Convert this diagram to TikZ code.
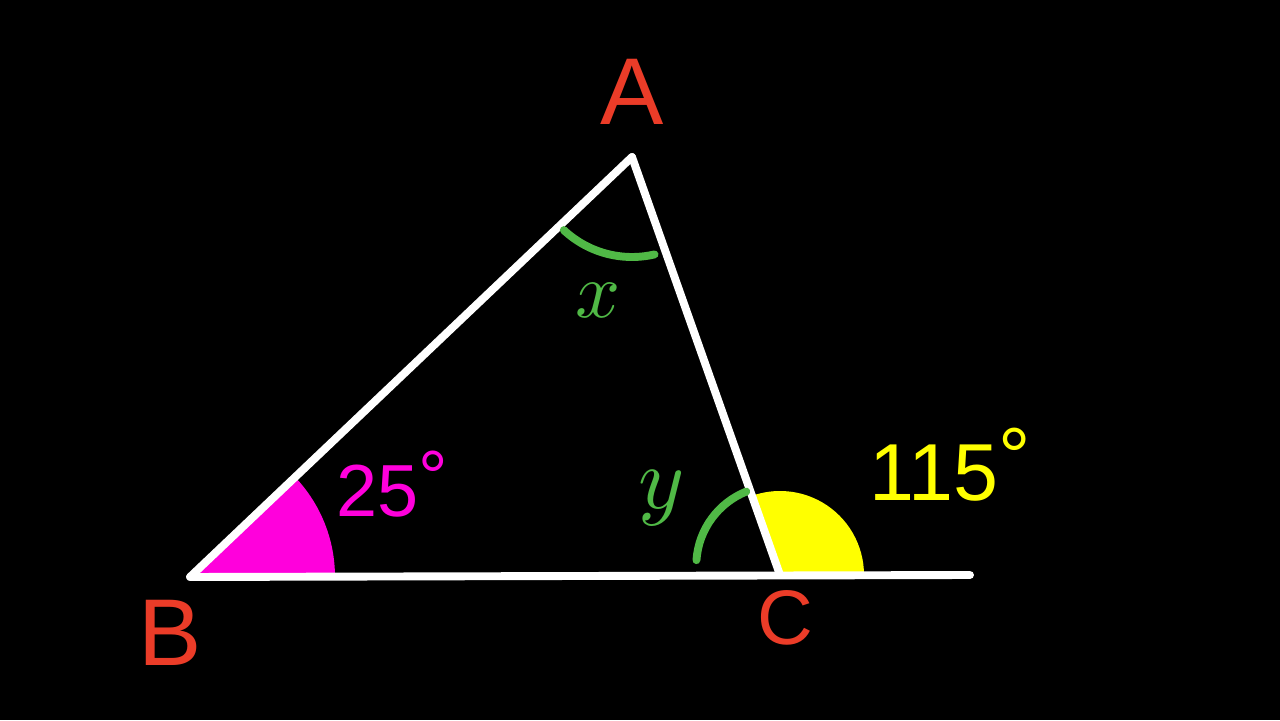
\documentclass[tikz,border=0pt]{standalone}
\usepackage{fontspec}
\setmainfont{Liberation Sans}
\definecolor{ptred}{RGB}{235,60,40}
\definecolor{ptpink}{RGB}{255,0,220}
\definecolor{ptyellow}{RGB}{255,255,0}
\definecolor{ptgreen}{RGB}{80,185,70}
\tikzset{
	side/.style={white,line width=4.5pt,line cap=round,line join=round},
	vlabel/.style={text=ptred,font=\fontsize{54}{58}\selectfont},
	anglearc/.style={ptgreen,line width=4.5pt,line cap=round},
}
\begin{document}
\begin{tikzpicture}[x=0.02cm,y=0.02cm]

	\fill[black] (0,0) rectangle (1280,720);
	\useasboundingbox (0,0) rectangle (1280,720);

	\coordinate (A) at (632,563);
	\coordinate (B) at (190,143);
	\coordinate (C) at (780,145);
	\coordinate (D) at (970,145);

%	filled angles
	\fill[ptpink] (B) -- ++(0:145) arc (0:43.5:145) -- cycle;
	\fill[ptyellow] (C) -- ++(0:84) arc (0:109.5:84) -- cycle;

	\draw[side] (A) -- (B) -- (D);
	\draw[side] (A) -- (C);

%	unknown angles
	\draw[anglearc] (A) ++(227:100) arc (227:283:100);
	\draw[anglearc] (C) ++(112:90) arc (112:176:80);

	\node[vlabel] (labA) at (632,628) {A};
	\node[vlabel] (labB) at (170,87) {B};
	\node[vlabel,font=\fontsize{44}{48}\selectfont] (labC) at (785,102) {C};

	\node[text=ptpink,font=\fontsize{42}{46}\selectfont] (ang25) at (392,236) {25\raisebox{0.2em}{°}};
	\node[text=ptyellow,font=\fontsize{46}{50}\selectfont] (ang115) at (950,255) {115\raisebox{0.2em}{°}};
	\node[text=ptgreen,scale=4.5] (angx) at (598,420) {$x$};
	\node[text=ptgreen,scale=5] (angy) at (662,222) {$y$};

\end{tikzpicture}
\end{document}
